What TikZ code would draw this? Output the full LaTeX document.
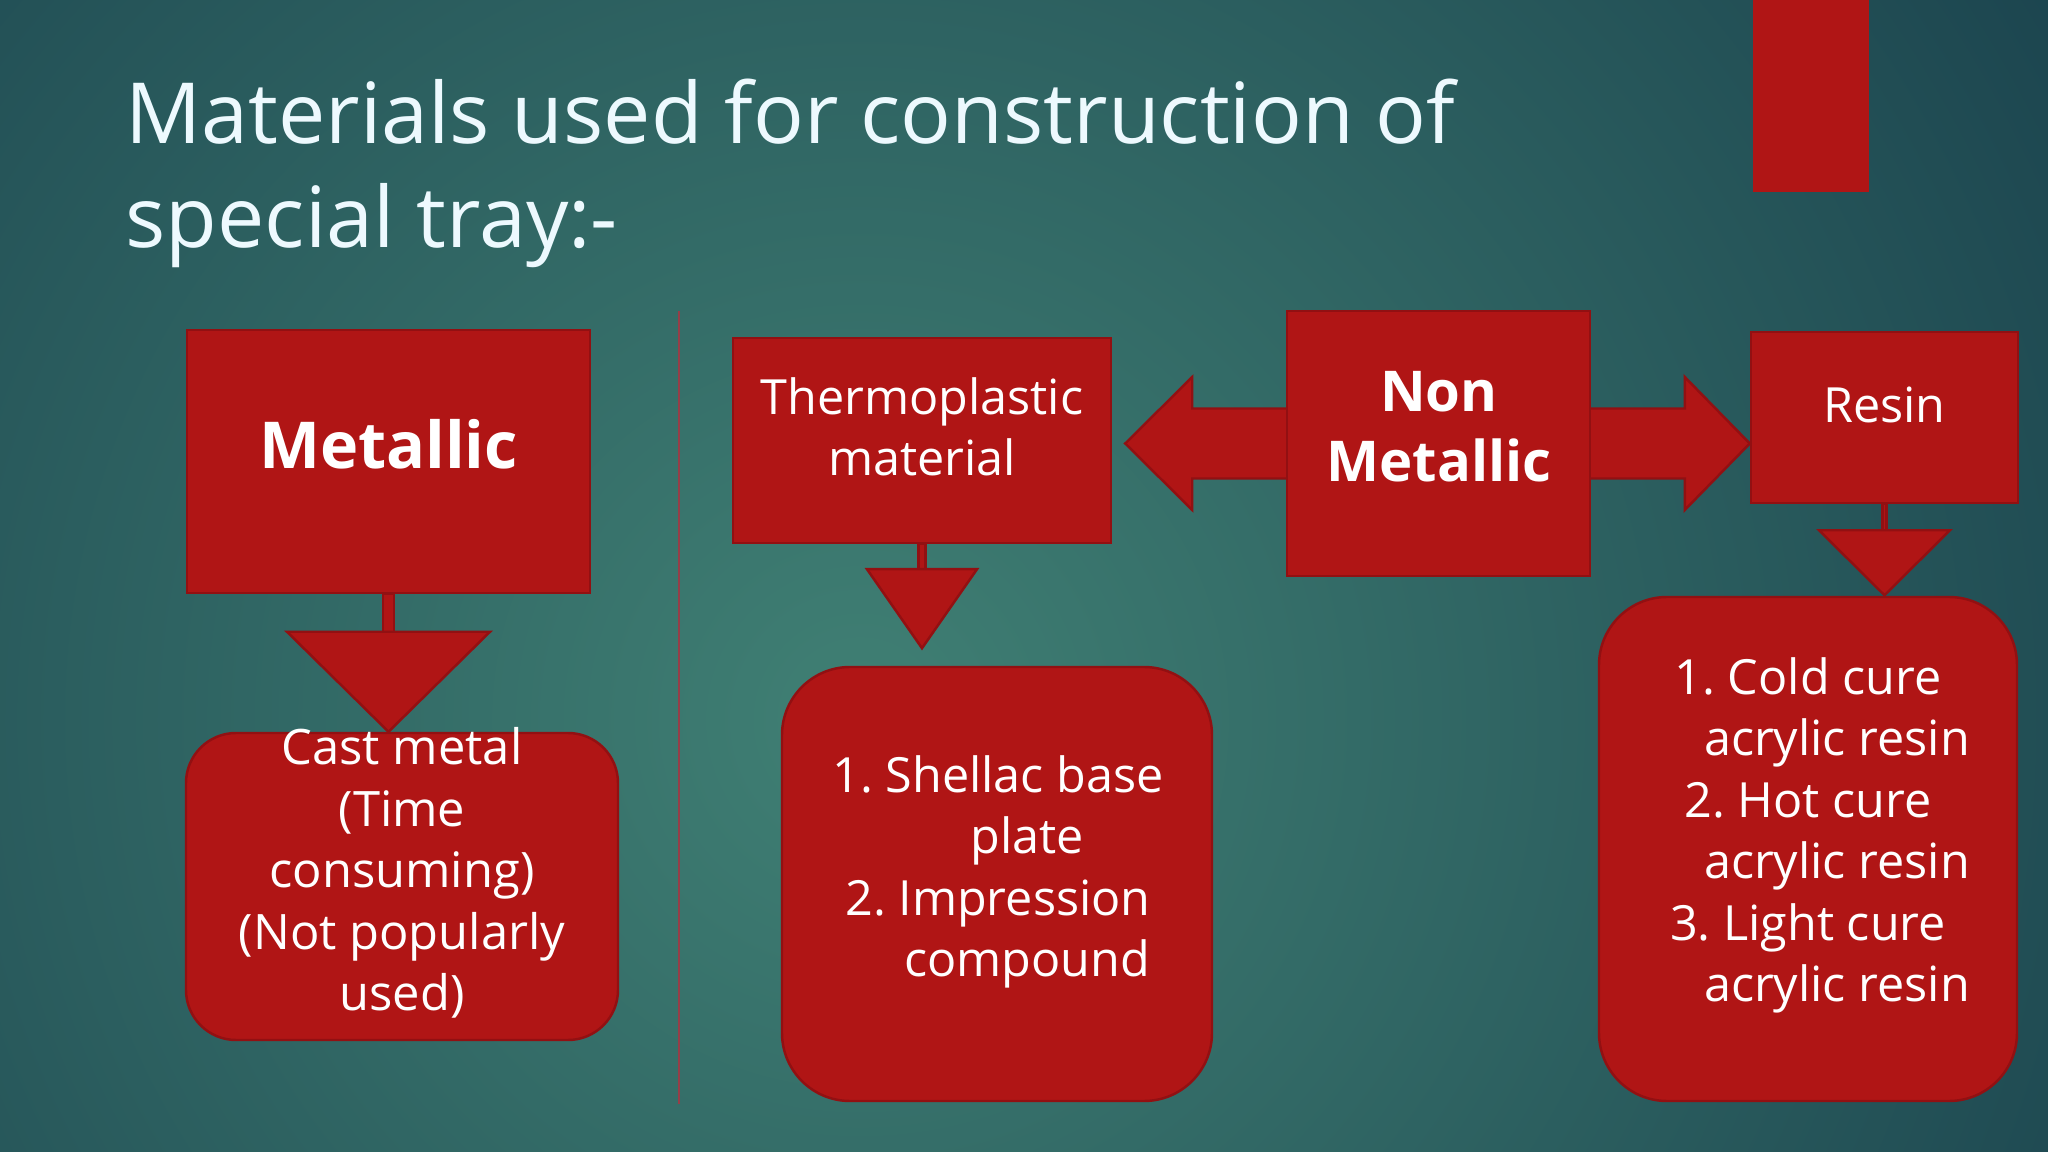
\documentclass[tikz,border=0pt]{standalone}
\usepackage{fontspec}
\setmainfont{Open Sans}
\usetikzlibrary{calc,positioning}
\definecolor{boxred}{RGB}{176,21,21}
\definecolor{edgered}{RGB}{146,16,18}
\definecolor{bginner}{RGB}{64,128,116}
\definecolor{bgouter}{RGB}{15,48,66}
\definecolor{divred}{RGB}{150,62,72}
\tikzset{
  box/.style={draw=edgered, fill=boxred, line width=0.7pt, inner sep=0pt},
  roundbox/.style={box, rounded corners=#1},
  tri/.style={draw=edgered, fill=boxred, line width=0.7pt, line join=miter},
  txt/.style={text=white, align=center, inner sep=0pt, font=\fontsize{13.8}{17.5}\selectfont},
  smalltxt/.style={txt, font=\fontsize{13.9}{17.5}\selectfont},
  boldtxt/.style={txt, font=\fontsize{#1}{20}\selectfont\bfseries},
  titletxt/.style={text=white!93!cyan, inner sep=0pt, anchor=base west, font=\fontsize{24}{30}\selectfont},
}
\begin{document}
\begin{tikzpicture}
    % Background
    \useasboundingbox (0,0) rectangle (20.48,-11.52);
    \begin{scope}
        \clip (0,0) rectangle (20.48,-11.52);
        \fill[bgouter] (0,0) rectangle (20.48,-11.52);
        \shade[inner color=bginner, outer color=bgouter] (8.6,-7.2) circle (19);
    \end{scope}
    \fill[boxred] (17.53,0) rectangle (18.69,-1.92);
    % Title
    \node[titletxt] (title1) at (1.25,-1.44) {Materials used for construction of};
    \node[titletxt] (title2) at ([yshift=-1.04cm]title1.base west) {special tray:-};
    % Divider
    \draw[divred, line width=0.6pt] (6.79,-3.11) -- (6.79,-11.04);
    % Metallic side
    \node[box, minimum width=4.03cm, minimum height=2.63cm] (metal) at (3.885,-4.615) {};
    \node[boldtxt=18.4] at ([yshift=0.175cm]metal.center) {Metallic};
    \node[roundbox=0.5cm, minimum width=4.32cm, minimum height=3.07cm] (cast) at (4.02,-8.865) {};
    \node[smalltxt] at ([yshift=0.135cm]cast.center) {Cast metal\\(Time\\consuming)\\(Not popularly\\used)};
    \coordinate (mtip) at (metal.south |- cast.north);
    \draw[tri] ($(metal.south)+(-0.055,0)$) rectangle ($(mtip)+(0.055,1.0)$);
    \draw[tri] ($(mtip)+(-1.015,1.0)$) -- ($(mtip)+(1.015,1.0)$) -- (mtip) -- cycle;
    % Non metallic side
    \node[box, minimum width=3.78cm, minimum height=2.05cm] (thermo) at (9.22,-4.405) {};
    \node[txt] at ([yshift=0.135cm]thermo.center) {Thermoplastic\\material};
    \node[roundbox=0.68cm, minimum width=4.30cm, minimum height=4.34cm] (shellac) at (9.97,-8.84) {};
    \node[txt] at (9.98,-8.72) {1.~Shellac base\\\hspace*{0.58cm}plate\\2.~Impression\\\hspace*{0.58cm}compound};
    \node[box, minimum width=2.67cm, minimum height=1.71cm] (resin) at (18.845,-4.175) {};
    \node[txt] at ([yshift=0.125cm]resin.center) {Resin};
    \node[roundbox=0.68cm, minimum width=4.18cm, minimum height=5.04cm] (resinlist) at (18.08,-8.49) {};
    \node[txt] at (18.08,-8.355) {1.~Cold cure\\\hspace*{0.58cm}acrylic resin\\2.~Hot cure\\\hspace*{0.58cm}acrylic resin\\3.~Light cure\\\hspace*{0.58cm}acrylic resin};
    % Thermoplastic arrow
    \coordinate (ttip) at ($(thermo.south)+(0,-1.04)$);
    \draw[tri] ($(thermo.south)+(-0.035,0)$) rectangle ($(ttip)+(0.035,0.79)$);
    \draw[tri] ($(ttip)+(-0.55,0.79)$) -- ($(ttip)+(0.55,0.79)$) -- (ttip) -- cycle;
    % Resin arrow
    \coordinate (rdtip) at ($(resin.south)+(0,-0.91)$);
    \draw[tri] ($(resin.south)+(-0.02,0)$) rectangle ($(rdtip)+(0.02,0.65)$);
    \draw[tri] ($(rdtip)+(-0.655,0.65)$) -- ($(rdtip)+(0.655,0.65)$) -- (rdtip) -- cycle;
    % Double arrow behind Non Metallic
    \node[box, minimum width=3.03cm, minimum height=2.65cm] (nonmet) at (14.385,-4.435) {};
    \coordinate (ltip) at ($(thermo.east |- nonmet.center)+(0.13,0)$);
    \coordinate (rtip) at (resin.west |- nonmet.center);
    \draw[tri] (ltip) -- ++(0.67,0.665) -- ++(0,-0.315) -- ($(rtip)+(-0.65,0.35)$) -- ++(0,0.315)
        -- (rtip) -- ++(-0.65,-0.665) -- ++(0,0.315) -- ($(ltip)+(0.67,-0.35)$) -- ++(0,-0.315) -- cycle;
    \node[box, minimum width=3.03cm, minimum height=2.65cm] at (nonmet) {};
    \node[boldtxt=16] at (14.39,-4.27) {Non\\Metallic};
\end{tikzpicture}
\end{document}
